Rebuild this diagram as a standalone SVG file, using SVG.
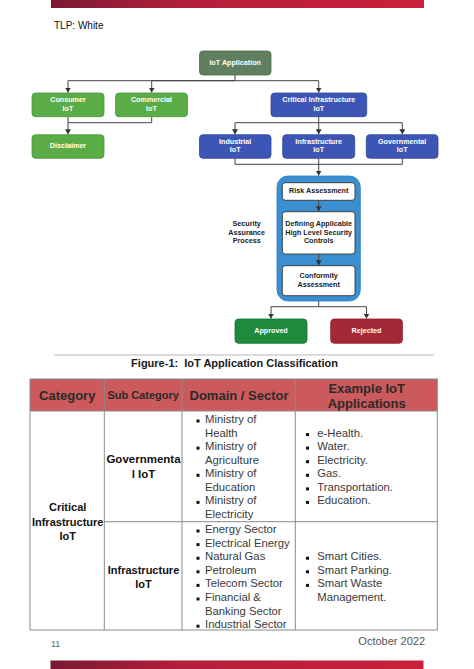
<svg xmlns="http://www.w3.org/2000/svg" width="474" height="669" viewBox="0 0 474 669">
  <defs>
    <linearGradient id="bar" x1="0" y1="0" x2="1" y2="0">
      <stop offset="0" stop-color="#7a1933"/>
      <stop offset="0.35" stop-color="#b31e3a"/>
      <stop offset="1" stop-color="#c9203a"/>
    </linearGradient>
    <marker id="arr" markerWidth="6" markerHeight="6" refX="5" refY="3" orient="auto" markerUnits="userSpaceOnUse">
      <path d="M0,0 L5,3 L0,6 Z" fill="#333"/>
    </marker>
    <style>
      .fc { font-family: "Liberation Sans", Arial, sans-serif; font-weight: bold; font-size: 7.2px; text-anchor: middle; }
      .wt { fill: #ffffff; }
      .dk { fill: #222222; }
      .gr { fill: #5aac47; stroke: #4b963b; stroke-width: 0.8; }
      .bl { fill: #3d56b6; stroke: #2f459a; stroke-width: 0.8; }
      .wb { fill: #ffffff; stroke: #333333; stroke-width: 0.9; }
      .conn { fill: none; stroke: #444444; stroke-width: 1; }
      .th { font-family: "Liberation Sans", Arial, sans-serif; font-weight: bold; font-size: 13px; fill: #2a2a2a; text-anchor: middle; }
      .th-s { font-size: 11px; }
      .tb { font-family: "Liberation Sans", Arial, sans-serif; font-weight: bold; font-size: 11px; fill: #111; text-anchor: middle; }
      .tb-l { font-size: 11.5px; }
      .td { font-family: "Liberation Sans", Arial, sans-serif; font-size: 11.3px; fill: #3a3a3a; }
      .bul { fill: #111; }
      .grid { fill: none; stroke: #8a8a8a; stroke-width: 1; }
    </style>
  </defs>

  <!-- page bars -->
  <rect x="51" y="0" width="373" height="8" fill="url(#bar)"/>
  <rect x="50.5" y="660.5" width="373" height="8.5" fill="url(#bar)"/>
  <text x="54" y="28.5" font-family="Liberation Sans, Arial, sans-serif" font-size="10" fill="#111">TLP: White</text>

  <!-- connectors -->
  <g id="connectors" class="conn">
    <path d="M235,75 V80.7 H68 V92.6" marker-end="url(#arr)"/>
    <path d="M235,80.7 H151.7 V92.6" marker-end="url(#arr)"/>
    <path d="M235,80.7 H318.7 V92.6" marker-end="url(#arr)"/>
    <path d="M151.7,116.7 V122.7 H68"/>
    <path d="M68,116.7 V134.3" marker-end="url(#arr)"/>
    <path d="M318.7,116.7 V122.7 H235 V134.3" marker-end="url(#arr)"/>
    <path d="M318.7,122.7 V134.3" marker-end="url(#arr)"/>
    <path d="M318.7,122.7 H402.3 V134.3" marker-end="url(#arr)"/>
    <path d="M235,158.3 V164.3 H402.3 V158.3"/>
    <path d="M318.7,158.3 V175.6" marker-end="url(#arr)"/>
    <path d="M318.7,301 V306.7 H271 V318.6" marker-end="url(#arr)"/>
    <path d="M318.7,306.7 H366.5 V318.6" marker-end="url(#arr)"/>
  </g>

  <!-- flowchart nodes -->
  <g id="iot-application">
    <rect x="199.5" y="51" width="71.5" height="24" rx="3.5" fill="#5f7f5f" stroke="#4b684b" stroke-width="0.8"/>
    <text class="fc wt" x="235.2" y="65.2">IoT Application</text>
  </g>
  <g id="consumer-iot">
    <rect class="gr" x="32" y="93" width="72" height="23.7" rx="3.5"/>
    <text class="fc wt" x="68" y="101.8">Consumer</text>
    <text class="fc wt" x="68" y="110.5">IoT</text>
  </g>
  <g id="commercial-iot">
    <rect class="gr" x="115.5" y="93" width="72" height="23.7" rx="3.5"/>
    <text class="fc wt" x="151.5" y="101.8">Commercial</text>
    <text class="fc wt" x="151.5" y="110.5">IoT</text>
  </g>
  <g id="critical-infrastructure-iot">
    <rect class="bl" x="271" y="93" width="95.7" height="23.7" rx="3.5"/>
    <text class="fc wt" x="318.8" y="101.8">Critical Infrastructure</text>
    <text class="fc wt" x="318.8" y="110.5">IoT</text>
  </g>
  <g id="disclaimer">
    <rect class="gr" x="32" y="134.7" width="72" height="23.6" rx="3.5"/>
    <text class="fc wt" x="68" y="148">Disclaimer</text>
  </g>
  <g id="industrial-iot">
    <rect class="bl" x="199.5" y="134.7" width="71.5" height="23.6" rx="3.5"/>
    <text class="fc wt" x="235.2" y="143.5">Industrial</text>
    <text class="fc wt" x="235.2" y="152.2">IoT</text>
  </g>
  <g id="infrastructure-iot">
    <rect class="bl" x="282.7" y="134.7" width="72" height="23.6" rx="3.5"/>
    <text class="fc wt" x="318.7" y="143.5">Infrastructure</text>
    <text class="fc wt" x="318.7" y="152.2">IoT</text>
  </g>
  <g id="governmental-iot">
    <rect class="bl" x="366.3" y="134.7" width="71.7" height="23.6" rx="3.5"/>
    <text class="fc wt" x="402.2" y="143.5">Governmental</text>
    <text class="fc wt" x="402.2" y="152.2">IoT</text>
  </g>

  <g id="security-assurance-process">
    <rect x="277" y="176" width="83.3" height="125" rx="11" fill="#3a8fd1" stroke="#2b7cc0" stroke-width="0.8"/>
    <text class="fc dk" x="246.7" y="225.8">Security</text>
    <text class="fc dk" x="246.7" y="234.5">Assurance</text>
    <text class="fc dk" x="246.7" y="243.2">Process</text>
  </g>
  <g id="risk-assessment">
    <rect class="wb" x="282.3" y="182.7" width="72.7" height="17.6" rx="3"/>
    <text class="fc dk" x="318.7" y="193">Risk Assessment</text>
  </g>
  <g id="defining-controls">
    <rect class="wb" x="282.3" y="211.7" width="72.7" height="42.3" rx="3"/>
    <text class="fc dk" x="318.7" y="225.8">Defining Applicable</text>
    <text class="fc dk" x="318.7" y="234.5">High Level Security</text>
    <text class="fc dk" x="318.7" y="243.2">Controls</text>
  </g>
  <g id="conformity-assessment">
    <rect class="wb" x="282.3" y="265.7" width="72.7" height="30" rx="3"/>
    <text class="fc dk" x="318.7" y="278.2">Conformity</text>
    <text class="fc dk" x="318.7" y="286.5">Assessment</text>
  </g>
  <g id="inner-connectors" class="conn">
    <path d="M318.7,200.3 V211.3" marker-end="url(#arr)"/>
    <path d="M318.7,254 V265.3" marker-end="url(#arr)"/>
  </g>
  <g id="approved">
    <rect x="235" y="319" width="72" height="24.3" rx="3.5" fill="#1f8a3c" stroke="#187232" stroke-width="0.8"/>
    <text class="fc wt" x="271" y="332.7">Approved</text>
  </g>
  <g id="rejected">
    <rect x="330.7" y="319" width="71.7" height="24.3" rx="3.5" fill="#a52836" stroke="#8a1f2c" stroke-width="0.8"/>
    <text class="fc wt" x="366.5" y="332.7">Rejected</text>
  </g>

  <!-- caption -->
  <line x1="54.3" y1="355" x2="434" y2="355" stroke="#cfcfcf" stroke-width="1.5"/>
  <text x="234.5" y="367" xml:space="preserve" style="white-space:pre" font-family="Liberation Sans, Arial, sans-serif" font-weight="bold" font-size="11" fill="#1a1a1a" text-anchor="middle">Figure-1:  IoT Application Classification</text>

  <!-- table -->
  <g id="table">
    <rect x="30" y="379" width="407.3" height="32" fill="#cc5a5c"/>
    <rect class="grid" x="30" y="379" width="407.3" height="251"/>
    <line class="grid" x1="30" y1="411" x2="437.3" y2="411"/>
    <line class="grid" x1="104.3" y1="379" x2="104.3" y2="630"/>
    <line class="grid" x1="182" y1="379" x2="182" y2="630"/>
    <line class="grid" x1="295.3" y1="379" x2="295.3" y2="630"/>
    <line class="grid" x1="104.3" y1="521.7" x2="437.3" y2="521.7"/>

    <text class="th" x="67.2" y="399.7">Category</text>
    <text class="th th-s" x="143.2" y="399.3">Sub Category</text>
    <text class="th" x="239" y="399.7">Domain / Sector</text>
    <text class="th" x="366.7" y="393">Example IoT</text>
    <text class="th" x="366.7" y="408">Applications</text>

    <text class="tb" x="67.7" y="511.3">Critical</text>
    <text class="tb" x="67.7" y="525.7">Infrastructure</text>
    <text class="tb" x="67.7" y="539.7">IoT</text>

    <text class="tb tb-l" x="143.5" y="463.3">Governmenta</text>
    <text class="tb tb-l" x="143.5" y="478">l IoT</text>
    <text class="tb" x="143.5" y="574">Infrastructure</text>
    <text class="tb" x="143.5" y="588">IoT</text>

    <g class="bul">
      <rect x="196.5" y="419.5" width="3" height="3"/>
      <rect x="196.5" y="446.6" width="3" height="3"/>
      <rect x="196.5" y="473.8" width="3" height="3"/>
      <rect x="196.5" y="500.9" width="3" height="3"/>
      <rect x="306" y="433.1" width="3" height="3"/>
      <rect x="306" y="446.6" width="3" height="3"/>
      <rect x="306" y="460.2" width="3" height="3"/>
      <rect x="306" y="473.8" width="3" height="3"/>
      <rect x="306" y="487.4" width="3" height="3"/>
      <rect x="306" y="500.9" width="3" height="3"/>
      <rect x="196.5" y="529.5" width="3" height="3"/>
      <rect x="196.5" y="543.1" width="3" height="3"/>
      <rect x="196.5" y="556.7" width="3" height="3"/>
      <rect x="196.5" y="570.3" width="3" height="3"/>
      <rect x="196.5" y="583.9" width="3" height="3"/>
      <rect x="196.5" y="597.5" width="3" height="3"/>
      <rect x="196.5" y="624.7" width="3" height="3"/>
      <rect x="306" y="556.7" width="3" height="3"/>
      <rect x="306" y="570.3" width="3" height="3"/>
      <rect x="306" y="583.9" width="3" height="3"/>
    </g>

    <text class="td" x="205" y="423">Ministry of</text>
    <text class="td" x="205" y="436.6">Health</text>
    <text class="td" x="205" y="450.1">Ministry of</text>
    <text class="td" x="205" y="463.7">Agriculture</text>
    <text class="td" x="205" y="477.3">Ministry of</text>
    <text class="td" x="205" y="490.9">Education</text>
    <text class="td" x="205" y="504.4">Ministry of</text>
    <text class="td" x="205" y="518">Electricity</text>

    <text class="td" x="317.3" y="436.6">e-Health.</text>
    <text class="td" x="317.3" y="450.1">Water.</text>
    <text class="td" x="317.3" y="463.7">Electricity.</text>
    <text class="td" x="317.3" y="477.3">Gas.</text>
    <text class="td" x="317.3" y="490.9">Transportation.</text>
    <text class="td" x="317.3" y="504.4">Education.</text>

    <text class="td" x="205" y="533">Energy Sector</text>
    <text class="td" x="205" y="546.6">Electrical Energy</text>
    <text class="td" x="205" y="560.2">Natural Gas</text>
    <text class="td" x="205" y="573.8">Petroleum</text>
    <text class="td" x="205" y="587.4">Telecom Sector</text>
    <text class="td" x="205" y="601">Financial &amp;</text>
    <text class="td" x="205" y="614.6">Banking Sector</text>
    <text class="td" x="205" y="628.2">Industrial Sector</text>

    <text class="td" x="317.3" y="560.2">Smart Cities.</text>
    <text class="td" x="317.3" y="573.8">Smart Parking.</text>
    <text class="td" x="317.3" y="587.4">Smart Waste</text>
    <text class="td" x="317.3" y="601">Management.</text>
  </g>

  <!-- footer -->
  <text x="51" y="647" font-family="Liberation Sans, Arial, sans-serif" font-size="9" fill="#666">11</text>
  <text x="425" y="644.5" font-family="Liberation Sans, Arial, sans-serif" font-size="11" fill="#555" text-anchor="end">October 2022</text>
</svg>
